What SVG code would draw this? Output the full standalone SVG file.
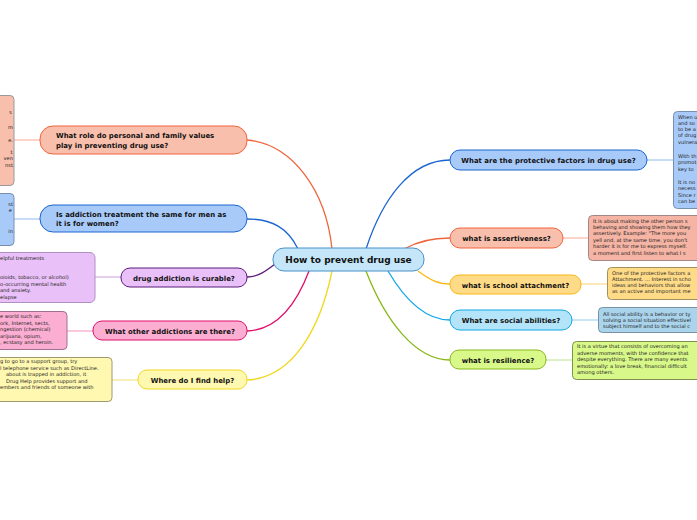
<svg xmlns="http://www.w3.org/2000/svg" width="697" height="520" viewBox="0 0 697 520">
<style>
.bt{font-family:"DejaVu Sans",Verdana,sans-serif;font-weight:bold;font-size:6.95px;fill:#111}
.ct{font-family:"DejaVu Sans",Verdana,sans-serif;font-weight:bold;font-size:9px;fill:#111}
.dt{font-family:"DejaVu Sans",Verdana,sans-serif;font-size:5.1px;fill:#222}
.c{fill:none;stroke-width:1.3}
.cl{fill:none;stroke-width:1}
</style>
<rect width="697" height="520" fill="#ffffff"/>
<g id="connectors">
<path class="c" stroke="#f0643c" d="M332,249 C326,190 292,144 247,140"/>
<path class="c" stroke="#1a66d0" d="M298,249 C288,228 272,219 247,219"/>
<path class="c" stroke="#5a1a7a" d="M275,264 C266,271 258,277 247,277"/>
<path class="c" stroke="#e0106a" d="M309,271 C298,300 280,330 247,331"/>
<path class="c" stroke="#f0d820" d="M332,271 C320,330 292,378 247,380"/>
<path class="c" stroke="#1a66d0" d="M366,249 C382,200 410,160 450,160"/>
<path class="c" stroke="#f0643c" d="M404,249 C418,241 432,238 450,238"/>
<path class="c" stroke="#f8b818" d="M418,271 C430,280 438,284 450,284"/>
<path class="c" stroke="#10a8e8" d="M388,271 C405,300 425,320 450,320"/>
<path class="c" stroke="#88b818" d="M366,271 C385,320 415,360 450,360"/>
<path class="cl" stroke="#f9a890" d="M14,140 H40"/>
<path class="cl" stroke="#90b8f0" d="M14,219 H40"/>
<path class="cl" stroke="#c8a0d8" d="M95,277 H121"/>
<path class="cl" stroke="#f890c0" d="M67,331 H93"/>
<path class="cl" stroke="#f0e070" d="M112,380 H138"/>
<path class="cl" stroke="#90b8f0" d="M647,160 H673"/>
<path class="cl" stroke="#f9a890" d="M563,238 H588"/>
<path class="cl" stroke="#f8d070" d="M581,284 H607"/>
<path class="cl" stroke="#90d0f0" d="M572,320 H598"/>
<path class="cl" stroke="#c0e090" d="M546,360 H572"/>
</g>
<g id="center">
<rect x="273" y="248" width="151" height="23" rx="11" fill="#c4e6f8" stroke="#4a90c8" stroke-width="1"/>
<text class="ct" x="348.5" y="263" text-anchor="middle">How to prevent drug use</text>
</g>
<g id="n-values">
<rect x="40" y="126" width="207" height="28" rx="13" fill="#f9bfad" stroke="#f0643c"/>
<text class="bt" x="56" y="138">What role do personal and family values</text>
<text class="bt" x="56" y="147.5">play in preventing drug use?</text>
</g>
<g id="d-values">
<rect x="-6" y="95.5" width="20" height="90" rx="4" fill="#f9bfad" stroke="#999"/>
<text class="dt" x="12" y="114" text-anchor="end">s</text>
<text class="dt" x="13" y="129" text-anchor="end">m</text>
<text class="dt" x="13" y="142" text-anchor="end">e.</text>
<text class="dt" x="12.5" y="154" text-anchor="end">t</text>
<text class="dt" x="13" y="160" text-anchor="end">ven</text>
<text class="dt" x="13" y="167" text-anchor="end">nst</text>
</g>
<g id="n-men">
<rect x="40" y="205" width="207" height="27" rx="13" fill="#a8caf9" stroke="#1a66d0"/>
<text class="bt" x="56" y="216.5">Is addiction treatment the same for men as</text>
<text class="bt" x="56" y="226">it is for women?</text>
</g>
<g id="d-men">
<rect x="-6" y="193.5" width="20" height="52" rx="4" fill="#a8caf9" stroke="#7890b0"/>
<text class="dt" x="13" y="206" text-anchor="end">st</text>
<text class="dt" x="12" y="212" text-anchor="end">e</text>
<text class="dt" x="13" y="233" text-anchor="end">in</text>
</g>
<g id="n-curable">
<rect x="121" y="268" width="126" height="19" rx="9" fill="#e9c0f7" stroke="#5a1a7a"/>
<text class="bt" x="184" y="280.5" text-anchor="middle">drug addiction is curable?</text>
</g>
<g id="d-curable">
<rect x="-6" y="252.5" width="101" height="50" rx="5" fill="#e9c0f7" stroke="#b090c0"/>
<text class="dt" x="0" y="260">elpful treatments</text>
<text class="dt" x="0" y="279">oioids, tobacco, or alcohol)</text>
<text class="dt" x="0" y="285.5">o-occurring mental health</text>
<text class="dt" x="0" y="292">and anxiety.</text>
<text class="dt" x="0" y="298.5">elapse</text>
</g>
<g id="n-other">
<rect x="93" y="321" width="154" height="19" rx="9" fill="#fbaed2" stroke="#e0106a"/>
<text class="bt" x="170" y="333.5" text-anchor="middle">What other addictions are there?</text>
</g>
<g id="d-other">
<rect x="-6" y="311.5" width="73" height="38" rx="4" fill="#fbaed2" stroke="#a07090"/>
<text class="dt" x="0" y="318">e world such as:</text>
<text class="dt" x="0" y="324.5">ork, Internet, sects,</text>
<text class="dt" x="0" y="331">ngestion (chemical)</text>
<text class="dt" x="0" y="337.5">arijuana, opium,</text>
<text class="dt" x="0" y="344">, ecstasy and heroin.</text>
</g>
<g id="n-help">
<rect x="138" y="370" width="109" height="19" rx="9" fill="#fff8b0" stroke="#f0d820"/>
<text class="bt" x="192.5" y="382.5" text-anchor="middle">Where do I find help?</text>
</g>
<g id="d-help">
<rect x="-6" y="357.5" width="118" height="44" rx="4" fill="#fff8b0" stroke="#a09870"/>
<text class="dt" x="0" y="363">g to go to a support group, try</text>
<text class="dt" x="0" y="369.5">l telephone service such as DirectLine.</text>
<text class="dt" x="6" y="376">about is trapped in addiction, it</text>
<text class="dt" x="6" y="382.5">Drug Help provides support and</text>
<text class="dt" x="0" y="389">embers and friends of someone with</text>
</g>
<g id="n-protective">
<rect x="450" y="150" width="197" height="20" rx="10" fill="#a8caf9" stroke="#1a66d0"/>
<text class="bt" x="548.5" y="162.5" text-anchor="middle">What are the protective factors in drug use?</text>
</g>
<g id="d-protective">
<rect x="673.5" y="111.5" width="30" height="97" rx="4" fill="#a8caf9" stroke="#7890b0"/>
<text class="dt" x="678" y="119">When u</text>
<text class="dt" x="678" y="125">and so</text>
<text class="dt" x="678" y="131">to be a</text>
<text class="dt" x="678" y="137">of drug</text>
<text class="dt" x="678" y="143.5">vulnera</text>
<text class="dt" x="678" y="158">With th</text>
<text class="dt" x="678" y="164">promot</text>
<text class="dt" x="678" y="170.5">key to</text>
<text class="dt" x="678" y="184">It is no</text>
<text class="dt" x="678" y="190">necess</text>
<text class="dt" x="678" y="196.5">Since r</text>
<text class="dt" x="678" y="203">can be</text>
</g>
<g id="n-assert">
<rect x="450" y="228" width="113" height="20" rx="10" fill="#f9bfad" stroke="#f0643c"/>
<text class="bt" x="506.5" y="240.5" text-anchor="middle">what is assertiveness?</text>
</g>
<g id="d-assert">
<rect x="588.5" y="215.5" width="115" height="45" rx="4" fill="#f5b4a4" stroke="#a08888"/>
<text class="dt" x="593" y="223">It is about making the other person s</text>
<text class="dt" x="593" y="229">behaving and showing them how they</text>
<text class="dt" x="593" y="235">assertively. Example: "The more you</text>
<text class="dt" x="593" y="241.5">yell and, at the same time, you don't</text>
<text class="dt" x="593" y="248">harder it is for me to express myself.</text>
<text class="dt" x="593" y="254.5">a moment and first listen to what I s</text>
</g>
<g id="n-school">
<rect x="450" y="275" width="131" height="19" rx="9" fill="#ffdb88" stroke="#f8b818"/>
<text class="bt" x="515.5" y="287.5" text-anchor="middle">what is school attachment?</text>
</g>
<g id="d-school">
<rect x="607.5" y="267.5" width="96" height="32" rx="4" fill="#ffdb88" stroke="#a09060"/>
<text class="dt" x="612" y="274.5">One of the protective factors a</text>
<text class="dt" x="612" y="280.5">Attachment. ... Interest in scho</text>
<text class="dt" x="612" y="286.5">ideas and behaviors that allow</text>
<text class="dt" x="612" y="292.5">as an active and important me</text>
</g>
<g id="n-social">
<rect x="450" y="310" width="122" height="20" rx="10" fill="#b4e4f9" stroke="#10a8e8"/>
<text class="bt" x="511" y="322.5" text-anchor="middle">What are social abilities?</text>
</g>
<g id="d-social">
<rect x="598.5" y="307.5" width="105" height="25" rx="4" fill="#aad4ec" stroke="#7890a0"/>
<text class="dt" x="603" y="315.5">All social ability is a behavior or ty</text>
<text class="dt" x="603" y="321.5">solving a social situation effectivel</text>
<text class="dt" x="603" y="327.5">subject himself and to the social c</text>
</g>
<g id="n-resilience">
<rect x="450" y="350" width="96" height="19" rx="9" fill="#d8f88a" stroke="#88b818"/>
<text class="bt" x="498" y="362.5" text-anchor="middle">what is resilience?</text>
</g>
<g id="d-resilience">
<rect x="572.5" y="341.5" width="131" height="38" rx="4" fill="#d8f88a" stroke="#809050"/>
<text class="dt" x="577" y="348">It is a virtue that consists of overcoming an</text>
<text class="dt" x="577" y="354.5">adverse moments, with the confidence that</text>
<text class="dt" x="577" y="361">despite everything. There are many events</text>
<text class="dt" x="577" y="367.5">emotionally: a love break, financial difficult</text>
<text class="dt" x="577" y="374">among others.</text>
</g>
</svg>
